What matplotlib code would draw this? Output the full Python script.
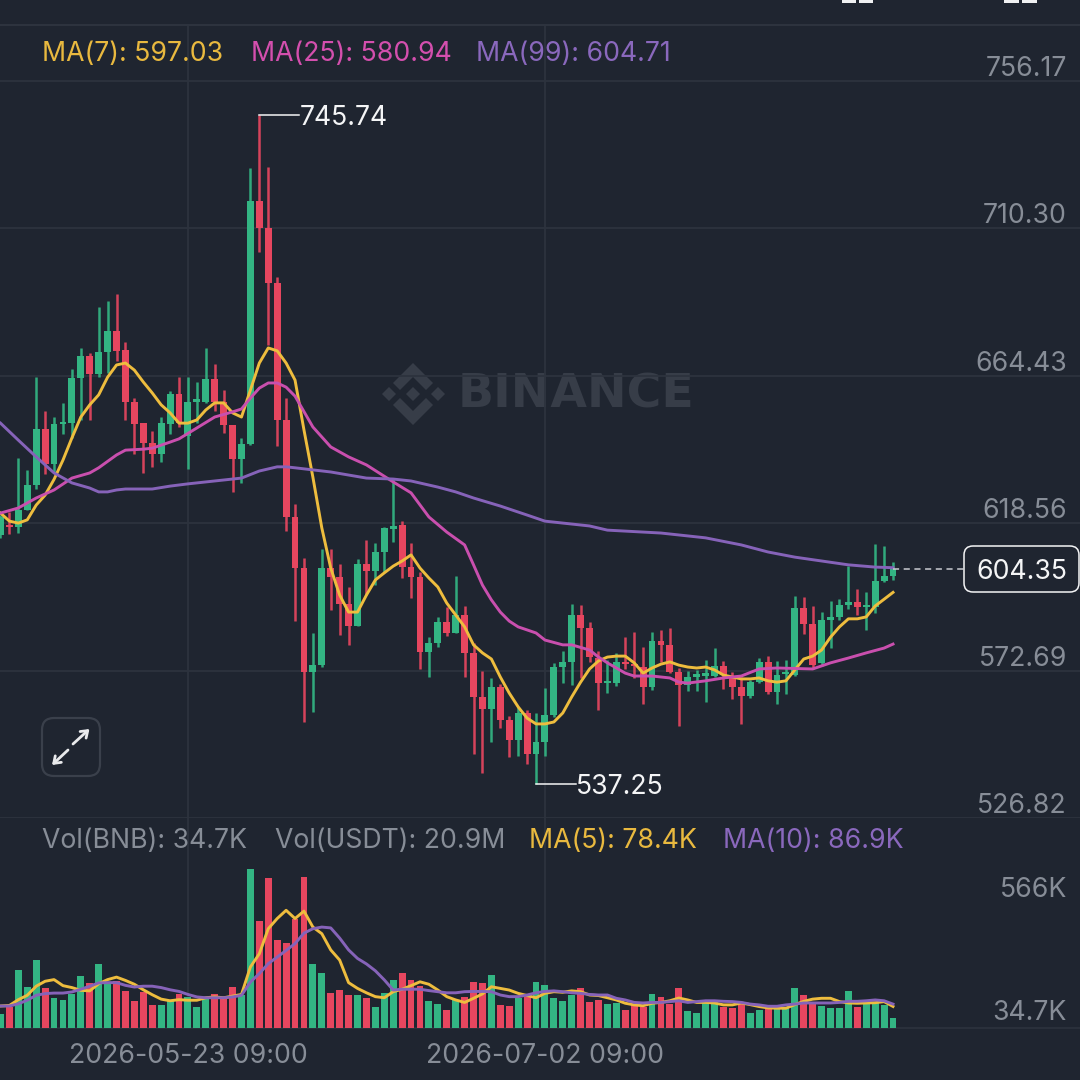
import matplotlib
matplotlib.use("Agg")
import matplotlib.pyplot as plt
from matplotlib.patches import FancyBboxPatch, Polygon, Rectangle

opens = [614.9,618.0,617.4,622.7,630.4,647.9,637.0,649.4,649.7,663.7,670.6,665.0,671.8,678.4,672.5,656.3,649.7,643.5,640.1,649.4,
         658.8,645.7,656.3,656.3,663.4,656.3,649.1,638.5,643.2,718.8,710.4,693.3,650.7,620.5,604.6,572.3,574.4,604.6,601.8,593.4,
         586.6,605.9,603.7,609.6,616.8,618.0,604.9,601.8,578.5,581.3,587.8,584.4,590.0,578.2,564.5,560.7,567.6,557.3,551.1,559.5,
         546.7,550.5,558.9,573.8,575.4,590.0,585.9,576.6,568.8,568.8,575.4,574.7,573.8,567.6,581.9,580.7,572.3,568.2,570.7,571.0,
         571.0,574.1,570.4,567.6,564.8,569.1,575.4,566.0,571.6,571.3,592.2,587.2,575.1,588.4,589.4,593.1,594.0,592.5,592.5,600.6,602.1]
highs = [621.1,622.0,638.9,635.1,664.0,653.5,651.6,656.0,666.5,673.1,671.5,685.8,687.7,689.9,674.9,657.5,649.7,647.3,651.6,659.7,
         664.0,664.0,662.5,673.1,668.1,660.0,649.1,645.1,729.1,745.74,729.4,695.2,657.5,624.5,607.7,584.4,610.5,610.5,605.9,598.7,
         607.4,613.3,612.4,617.4,632.3,619.3,612.4,603.4,583.1,589.4,592.5,602.1,592.8,581.3,572.6,570.4,568.5,558.6,561.4,560.4,
         559.5,567.3,575.1,578.8,593.4,593.1,587.8,578.8,576.0,578.2,583.1,584.7,580.0,584.7,585.3,585.9,573.5,572.6,572.9,576.0,
         579.7,575.7,572.3,570.7,569.8,576.6,577.2,575.7,576.0,595.9,595.6,592.8,590.9,594.4,594.9,605.2,598.1,597.1,612.1,611.5,606.5]
lows = [613.9,615.2,615.5,622.7,629.2,633.9,634.2,646.3,645.1,650.7,650.7,664.0,665.3,669.0,650.7,640.1,634.2,636.1,637.6,646.3,
        648.5,635.4,649.7,656.0,653.5,646.6,628.3,631.1,642.9,703.0,674.0,642.6,616.1,588.1,556.7,559.8,573.8,591.6,583.8,580.7,
        586.6,596.2,599.3,603.4,612.7,601.5,595.3,573.2,570.7,580.0,583.5,584.4,570.7,546.7,540.8,550.5,554.8,545.8,546.1,543.6,
        537.25,546.1,558.2,568.8,568.2,570.4,575.4,560.4,565.7,567.9,573.2,570.4,562.3,566.7,575.4,571.9,555.5,566.3,566.3,562.9,
        570.7,567.0,563.8,556.1,564.2,568.8,565.4,562.3,565.4,571.0,584.1,573.2,574.1,579.7,588.4,591.9,590.0,585.3,590.6,600.3,600.9]
closes = [620.5,617.4,622.7,630.4,647.9,637.0,649.4,650.1,663.7,670.6,665.0,671.8,678.4,672.2,656.3,649.4,643.5,640.1,649.7,658.8,
          649.7,656.3,657.2,663.4,656.3,649.1,638.5,643.2,718.8,710.4,693.3,650.7,620.5,604.6,572.3,574.4,604.6,601.8,593.4,586.6,
          605.9,603.7,609.6,617.1,617.7,604.9,601.8,578.5,581.3,587.8,584.4,590.0,578.2,564.5,560.7,567.6,557.3,551.1,559.5,546.7,
          550.5,558.9,573.8,575.4,590.0,585.9,576.9,568.8,569.4,575.4,574.7,574.1,567.6,581.9,580.7,572.3,568.2,570.7,571.6,571.9,
          574.1,571.3,567.6,564.8,569.1,575.4,566.0,571.3,572.3,592.2,587.2,574.4,588.4,589.4,593.1,594.0,592.5,593.1,600.6,602.1,604.35]

ma7 = [621.7,619.2,618.6,619.6,624.2,627.3,632.2,638.2,645.1,651.6,655.4,658.5,664.0,667.8,668.4,666.2,662.5,659.1,655.4,652.9,
       649.7,649.7,650.7,653.8,656.0,656.0,652.9,651.6,660.0,668.4,673.1,672.2,668.4,663.1,647.6,632.9,617.1,604.6,596.2,590.9,
       590.9,596.2,600.9,603.1,605.2,606.8,608.7,604.6,601.5,598.7,593.7,590.0,586.3,580.7,578.2,576.3,570.7,565.7,561.4,557.9,
       556.1,556.1,556.7,559.5,564.5,569.1,573.2,575.7,576.9,577.2,577.2,575.1,571.9,573.5,574.7,575.4,574.4,573.8,573.5,573.8,
       572.9,571.3,570.7,570.1,570.1,570.4,569.5,569.1,569.5,572.9,576.3,577.2,579.1,583.1,586.3,588.8,588.8,589.4,592.8,594.9,597.03]
ma25_idx = [0,2,4,6,8,10,11,13,14,16,17,19,20,22,24,26,27,28,29,30,31,32,33,35,37,39,41,44,46,48,50,52,53,54,55,56,57,58,60,61,63,64,66,67,68,70,71,73,75,76,77,79,81,83,85,87,91,93,95,97,99,100]
ma25 = [621.7,623.3,626.4,628.9,632.6,634.2,635.8,639.8,641.3,641.6,641.9,643.8,644.8,648.2,651.6,653.2,654.1,657.5,660.6,662.2,662.2,660.9,658.1,648.5,642.3,639.2,636.7,631.4,628.0,620.5,615.8,611.8,605.6,599.3,594.7,590.9,588.1,586.3,584.4,582.2,580.7,580.7,579.1,576.9,575.1,571.9,571.0,571.0,570.4,569.1,568.8,569.5,570.4,571.0,573.2,573.5,573.2,575.1,576.6,578.2,579.7,580.94]
ma99_idx = [0,2,4,6,8,10,11,12,13,14,17,19,21,23,26,27,29,31,32,33,37,41,44,46,49,51,53,56,59,61,63,66,68,74,79,83,86,89,92,95,98,100]
ma99 = [649.7,644.4,639.2,634.2,631.1,629.5,628.3,628.3,628.9,629.2,629.2,630.1,630.8,631.4,632.3,632.6,634.8,636.1,636.1,635.8,634.5,632.6,632.3,631.7,629.8,628.3,626.4,623.9,621.1,619.2,618.6,617.7,616.4,615.5,614.0,611.8,609.6,608.0,606.8,605.6,604.9,604.71]

volumes = [52,76,210,149,246,147,110,101,122,188,165,232,161,171,133,97,131,82,85,101,125,113,76,113,125,113,149,119,579,389,547,319,309,398,549,
           233,199,126,138,119,120,108,75,126,175,199,175,153,98,87,65,102,112,166,162,192,84,80,110,114,166,156,108,99,120,144,96,102,
           87,90,65,87,78,124,114,87,144,63,55,102,102,78,72,90,53,65,73,69,73,145,120,93,79,73,73,136,78,87,93,85,34.7]
vol_ma5 = [80,82,103,119,152,170,176,154,147,137,135,161,176,185,173,159,139,121,105,99,103,101,101,110,113,110,116,122,222,270,361,398,428,398,425,367,343,
           284,247,165,144,128,114,110,132,141,154,168,159,138,114,102,93,108,124,150,144,138,126,118,110,126,132,130,135,132,120,118,110,
           102,90,84,81,90,93,99,109,102,93,93,91,84,84,91,85,78,73,72,72,85,97,105,108,108,96,91,90,91,92,96,78.4]
vol_ma10 = [80,80,88,101,119,125,127,127,131,141,152,164,165,165,155,149,152,152,147,139,133,122,113,110,110,110,113,119,167,198,234,258,282,307,345,361,367,
            364,327,284,253,233,208,175,138,141,141,141,136,132,128,128,132,133,133,132,120,114,114,120,128,133,135,132,128,126,122,120,120,
            108,102,93,91,93,93,96,99,93,96,99,99,97,96,93,87,84,79,79,84,87,91,91,91,91,93,97,97,99,102,99,86.9]

price_ticks = [756.17,710.30,664.43,618.56,572.69,526.82]
date_ticks = [21,61]
date_labels = ["2026-05-23 09:00","2026-07-02 09:00"]
vol_ticks = [566,34.7]
vol_tick_labels = ["566K","34.7K"]
last_price = 604.35
hi_price, hi_idx = 745.74, 29
lo_price, lo_idx = 537.25, 60

BG="#1f2530"; GRID="#2d333e"; UP="#33b583"; DOWN="#e6465f"; YEL="#eebd3e"; PINK="#c94fae"; PUR="#8663b9"; TXT="#878d97"
FONT="Inter"; FS=19.2; LW=2.1
plt.rcParams['font.family']=[FONT,'DejaVu Sans']
W=1080.; H=1080.
fig=plt.figure(figsize=(10.8,10.8),dpi=100,facecolor=BG)
def axpx(l,t,r,b,**k):
    return fig.add_axes([l/W,1-b/H,(r-l)/W,(b-t)/H],**k)

wm=axpx(0,0,W,H,zorder=0); wm.set_xlim(0,W); wm.set_ylim(H,0); wm.axis('off')
WM="#373d48"
for cx in (389,413,438):
    wm.add_patch(Polygon([(cx-7,394),(cx,387),(cx+7,394),(cx,401)],color=WM,lw=0))
wm.add_patch(Polygon([(413,363),(433,383),(426,390),(413,377),(400,390),(393,383)],color=WM,lw=0))
wm.add_patch(Polygon([(413,425),(433,405),(426,398),(413,411),(400,398),(393,405)],color=WM,lw=0))
wm.text(458,394.5,"BINANCE",color=WM,fontsize=34,fontweight='bold',family='DejaVu Sans',va='center',ha='left')

xmin,xmax=-0.056,120.95
ax=axpx(0,25,W,818,zorder=1); ax.patch.set_alpha(0)
ax.set_xlim(xmin,xmax)
ax.set_ylim(526.82,526.82+(818-25)*45.87/147.4)
vx=axpx(0,818,W,1028,zorder=1); vx.patch.set_alpha(0)
vx.set_xlim(xmin,xmax); vx.set_ylim(0,210/0.275)

for a in (ax,vx):
    for s in a.spines.values(): s.set_visible(False)
    a.tick_params(length=0,labelleft=False,labelbottom=False)
    a.set_xticks(date_ticks)
    a.grid(True,axis='x',color=GRID,lw=1.3,zorder=0)
ax.set_yticks(price_ticks)
ax.grid(True,axis='y',color=GRID,lw=1.3,zorder=0)
ax.spines['top'].set_visible(True); ax.spines['top'].set_color(GRID); ax.spines['top'].set_linewidth(1.5)
vx.spines['bottom'].set_visible(True); vx.spines['bottom'].set_color(GRID); vx.spines['bottom'].set_linewidth(1.2)
vx.tick_params(labelbottom=True,colors=TXT,pad=10.5,labelsize=FS)
vx.set_xticklabels(date_labels)
vx.set_yticks([])

idx=list(range(len(closes)))
cols=[UP if c>=o else DOWN for o,c in zip(opens,closes)]
ax.vlines(idx,lows,highs,colors=cols,lw=1.8,zorder=2,alpha=.92)
ax.bar(idx,[max(abs(c-o),0.7) for o,c in zip(opens,closes)],bottom=[min(o,c) for o,c in zip(opens,closes)],width=0.77,color=cols,zorder=3,lw=0)
ax.plot(idx,ma7,color=YEL,lw=LW,zorder=5,solid_joinstyle='round')
ax.plot(ma25_idx,ma25,color=PINK,lw=LW,zorder=5)
ax.plot(ma99_idx,ma99,color=PUR,lw=LW,zorder=5)

vx.bar(idx,volumes,width=0.77,color=cols,zorder=3,lw=0)
vx.plot(idx,vol_ma5,color=YEL,lw=LW,zorder=5)
vx.plot(idx,vol_ma10,color=PUR,lw=LW,zorder=5)

PT=72/100.
for p in price_ticks:
    ax.annotate(f"{p:.2f}",xy=(1067/W,p),xycoords=ax.get_yaxis_transform(),xytext=(0,12*PT),textcoords='offset points',
                ha='right',va='center',color=TXT,fontsize=FS,zorder=6)
for v,l,d in zip(vol_ticks,vol_tick_labels,(-18,5)):
    vx.annotate(l,xy=(1067/W,v),xycoords=vx.get_yaxis_transform(),xytext=(0,d*PT),textcoords='offset points',
                ha='right',va='center',color=TXT,fontsize=FS,zorder=6)

WHITE="#f4f5f6"
ax.plot([hi_idx,hi_idx+4.48],[hi_price,hi_price],color=WHITE,lw=1.1,zorder=6)
ax.annotate(f"{hi_price:.2f}",xy=(hi_idx+4.55,hi_price),xytext=(0,-3*PT),textcoords='offset points',color=WHITE,fontsize=FS,va='center',ha='left',zorder=6)
ax.plot([lo_idx,lo_idx+4.48],[lo_price,lo_price],color=WHITE,lw=1.1,zorder=6)
ax.annotate(f"{lo_price:.2f}",xy=(lo_idx+4.5,lo_price),xytext=(0,-3*PT),textcoords='offset points',color=WHITE,fontsize=FS,va='center',ha='left',zorder=6)
ax.plot([100,107.9],[last_price,last_price],color="#c9ccd1",lw=1.1,dashes=(4,3),zorder=6)

ov=axpx(0,0,W,H,zorder=3); ov.set_xlim(0,W); ov.set_ylim(H,0); ov.axis('off'); ov.patch.set_alpha(0)
ov.add_patch(FancyBboxPatch((964,546),115,46,boxstyle="round,pad=0,rounding_size=9",fc=BG,ec=WHITE,lw=1.1))
ov.text(1067,572,f"{last_price:.2f}",color=WHITE,fontsize=FS,ha='right',va='center')
ov.add_patch(FancyBboxPatch((42,718),58,58,boxstyle="round,pad=0,rounding_size=12",fc=BG,ec="#3a404b",lw=1.6))
for a_,b_ in (((73,744),(89.5,729)),((68,750),(52,765))):
    ov.annotate("",xy=b_,xytext=a_,arrowprops=dict(arrowstyle="->,head_length=0.45,head_width=0.32",color="#e9eaec",lw=2,shrinkA=0,shrinkB=0))
for x0,x1 in ((842,856),(859,873),(1004,1019),(1022,1037)):
    ov.add_patch(Rectangle((x0,0),x1-x0,2.5,color="#f0f1f2",lw=0))
for s,x,y,c in (("MA(7): 597.03",42,54,"#e9b93f"),("MA(25): 580.94",251,54,"#d44fae"),("MA(99): 604.71",476,54,"#8a68bd"),
                ("Vol(BNB): 34.7K",42,841,TXT),("Vol(USDT): 20.9M",275,841,TXT),("MA(5): 78.4K",529,841,"#e9b93f"),("MA(10): 86.9K",723,841,"#8a68bd")):
    ov.text(x,y,s,color=c,fontsize=FS,ha='left',va='center')
fig.savefig("out.png",dpi=100,facecolor=BG)
